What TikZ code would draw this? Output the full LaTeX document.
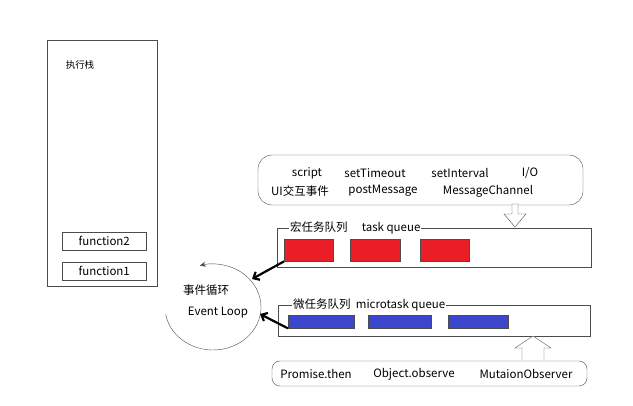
\documentclass[tikz,border=0pt]{standalone}
\usepackage{fontspec}
\setmainfont{Noto Sans CJK SC}
\usetikzlibrary{arrows.meta}
\definecolor{taskred}{RGB}{235,30,40}
\definecolor{microblue}{RGB}{60,70,205}
\tikzset{
  box/.style={draw=black!70, thin},
  task/.style={draw=black!70, fill=#1},
  lbl/.style={font=\fontsize{11.5}{12}\selectfont, inner sep=1pt},
  pull/.style={line width=2.2pt, -{Straight Barb[length=5pt,width=9pt]}},
  hollow/.style={draw=black!70, fill=white, thin}
}
\begin{document}
\begin{tikzpicture}[x=1pt,y=-1pt]
  \useasboundingbox (0,0) rectangle (633,406);
  % stack
  \draw[box] (47,40) rectangle (157,286);
  \node[lbl, font=\fontsize{9.5}{10}\selectfont] (stack) at (80,65) {执行栈};
  \node[box, lbl, minimum width=84pt, minimum height=18pt, anchor=north west] (fn2) at (62,232) {function2};
  \node[box, lbl, minimum width=84pt, minimum height=18pt, anchor=north west] (fn1) at (62,262) {function1};
  % event loop
  \draw[black!70, -{Stealth[length=6pt,width=5pt]}] (213,307) ++(170:48 and 43) arc[start angle=170, end angle=-106, x radius=48, y radius=43];
  \node[lbl] (loopcn) at (206,290) {事件循环};
  \node[lbl] (loopen) at (218,313) {Event Loop};
  % macro sources
  \draw[box, rounded corners=14pt] (258,155) rectangle (583,205);
  \node[lbl] at (307,173) {script};
  \node[lbl] at (375,173) {setTimeout};
  \node[lbl] at (460,173) {setInterval};
  \node[lbl] at (530,173) {I/O};
  \node[lbl] at (300,191) {UI交互事件};
  \node[lbl] at (383,191) {postMessage};
  \node[lbl] at (488,191) {MessageChannel};
  \draw[hollow] (512,204) -- (518,204) -- (518,214) -- (526,214) -- (515,227) -- (504,214) -- (512,214) -- cycle;
  % task queue
  \draw[box] (277,228) rectangle (591,267);
  \node[lbl, fill=white, anchor=west] (macro) at (289,228) {宏任务队列\quad\ task queue\ };
  \node[task=taskred, minimum width=49pt, minimum height=22pt, anchor=north west, inner sep=0pt] (m1) at (284,239) {};
  \node[task=taskred, minimum width=50pt, minimum height=22pt, anchor=north west, inner sep=0pt] (m2) at (350,239) {};
  \node[task=taskred, minimum width=49pt, minimum height=22pt, anchor=north west, inner sep=0pt] (m3) at (420,239) {};
  % microtask queue
  \draw[box] (278,305) rectangle (590,336);
  \node[lbl, fill=white, anchor=west] (micro) at (292,305) {微任务队列\ \ microtask queue\ };
  \node[task=microblue, minimum width=66pt, minimum height=13pt, anchor=north west, inner sep=0pt] (u1) at (288,315) {};
  \node[task=microblue, minimum width=63pt, minimum height=13pt, anchor=north west, inner sep=0pt] (u2) at (368,315) {};
  \node[task=microblue, minimum width=60pt, minimum height=13pt, anchor=north west, inner sep=0pt] (u3) at (448,315) {};
  \coordinate (in1) at (252,279);
  \coordinate (in2) at (260,314);
  \draw[pull] (m1.south west) -- (in1);
  \draw[pull] (u1.south west) -- (in2);
  % micro sources
  \draw[hollow] (522,360) -- (522,348) -- (515,348) -- (533,336) -- (551,348) -- (544,348) -- (544,360);
  \draw[box, rounded corners=8pt] (272,361) rectangle (587,386);
  \node[lbl] at (316,374) {Promise.then};
  \node[lbl] at (414,374) {Object.observe};
  \node[lbl] at (526,374) {MutaionObserver};
\end{tikzpicture}
\end{document}
